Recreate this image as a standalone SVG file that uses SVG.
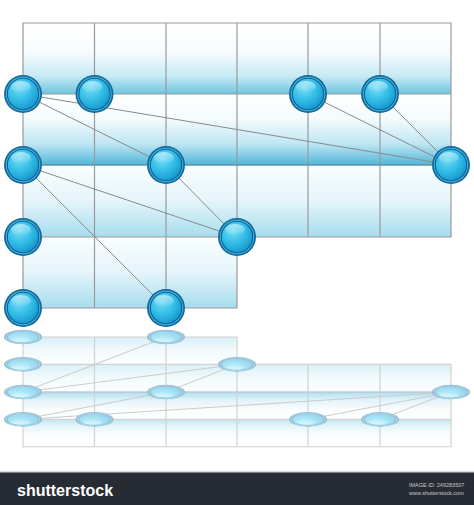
<svg xmlns="http://www.w3.org/2000/svg" xmlns:xlink="http://www.w3.org/1999/xlink" width="474" height="505" viewBox="0 0 474 505">
<defs>
<linearGradient id="bandA" x1="0" y1="0" x2="0" y2="1">
<stop offset="0" stop-color="#ffffff"/>
<stop offset="0.4" stop-color="#f8fcfe"/>
<stop offset="0.75" stop-color="#c6eaf5"/>
<stop offset="1" stop-color="#6cc5e0"/>
</linearGradient>
<linearGradient id="bandB" x1="0" y1="0" x2="0" y2="1">
<stop offset="0" stop-color="#ffffff"/>
<stop offset="0.35" stop-color="#f4fbfd"/>
<stop offset="0.7" stop-color="#bfe6f3"/>
<stop offset="1" stop-color="#4fb7d8"/>
</linearGradient>
<linearGradient id="bandC" x1="0" y1="0" x2="0" y2="1">
<stop offset="0" stop-color="#fafdfe"/>
<stop offset="0.5" stop-color="#e4f5fa"/>
<stop offset="1" stop-color="#a6dcee"/>
</linearGradient>
<radialGradient id="ball" cx="0.38" cy="0.32" r="0.75">
<stop offset="0" stop-color="#6fdcf6"/>
<stop offset="0.55" stop-color="#2fbbe6"/>
<stop offset="1" stop-color="#1590c8"/>
</radialGradient>
<linearGradient id="shine" x1="0" y1="0" x2="0" y2="1">
<stop offset="0" stop-color="#ffffff" stop-opacity="0.55"/>
<stop offset="1" stop-color="#ffffff" stop-opacity="0"/>
</linearGradient>
<g id="ballShape">
<circle r="19" fill="#17699c"/>
<circle r="17.2" fill="#3cbde6"/>
<circle r="15.7" fill="url(#ball)" stroke="#0f5d8c" stroke-width="1.1"/>
<ellipse cx="-2" cy="-7" rx="10" ry="6" fill="url(#shine)"/>
</g>
</defs>
<style>
.grid{fill:none;stroke:#9a9a9a;stroke-width:1.2}
.edge{fill:none;stroke:#8a8a8a;stroke-width:1}
.rs{vector-effect:non-scaling-stroke}
</style>
<rect width="474" height="505" fill="#ffffff"/>

<g id="diagram">
<g id="grid">
<rect x="23" y="23" width="428" height="71" fill="url(#bandA)"/>
<rect x="23" y="94" width="428" height="71" fill="url(#bandB)"/>
<rect x="23" y="165" width="428" height="72" fill="url(#bandC)"/>
<rect x="23" y="237" width="214" height="71" fill="url(#bandC)"/>
<path class="grid rs" d="M23 23H451V237H237V308H23Z M23 94H451 M23 165H451 M23 237H237 M94.5 23V308 M166 23V308 M237 23V237 M308 23V237 M380 23V237"/>
<path class="rs" d="M23 165H451" stroke="#4a8ea6" stroke-width="1.2" fill="none"/>
</g>
<g id="connectors">
<path class="edge rs" d="M23 94L451 165"/>
<path class="edge rs" d="M23 94L166 165"/>
<path class="edge rs" d="M308 94L451 165"/>
<path class="edge rs" d="M380 94L451 165"/>
<path class="edge rs" d="M23 165L237 237"/>
<path class="edge rs" d="M23 165L166 308"/>
<path class="edge rs" d="M166 165L237 237"/>
</g>
<g id="nodes">
<g id="n1"><use xlink:href="#ballShape" x="23" y="94"/></g>
<g id="n2"><use xlink:href="#ballShape" x="94.5" y="94"/></g>
<g id="n3"><use xlink:href="#ballShape" x="308" y="94"/></g>
<g id="n4"><use xlink:href="#ballShape" x="380" y="94"/></g>
<g id="n5"><use xlink:href="#ballShape" x="23" y="165"/></g>
<g id="n6"><use xlink:href="#ballShape" x="166" y="165"/></g>
<g id="n7"><use xlink:href="#ballShape" x="451" y="165"/></g>
<g id="n8"><use xlink:href="#ballShape" x="23" y="237"/></g>
<g id="n9"><use xlink:href="#ballShape" x="237" y="237"/></g>
<g id="n10"><use xlink:href="#ballShape" x="23" y="308"/></g>
<g id="n11"><use xlink:href="#ballShape" x="166" y="308"/></g>
</g>
</g>

<g id="reflection" opacity="0.44" transform="translate(0,337) scale(1,-0.385) translate(0,-308)">
<use xlink:href="#diagram"/>
</g>

<g id="footer">
<rect x="0" y="472" width="474" height="33" fill="#272b33"/>
<rect x="0" y="471" width="474" height="1.5" fill="#d9dadc"/>
<text x="17" y="496" font-family="Liberation Sans, Arial, sans-serif" font-weight="bold" font-size="16" fill="#ffffff">shutterstock</text>
<text x="409" y="487" font-family="Liberation Sans, Arial, sans-serif" font-size="5.5" fill="#c8c9cc">IMAGE ID: 249283507</text>
<text x="409" y="494.5" font-family="Liberation Sans, Arial, sans-serif" font-size="5.5" fill="#c8c9cc">www.shutterstock.com</text>
</g>
</svg>
